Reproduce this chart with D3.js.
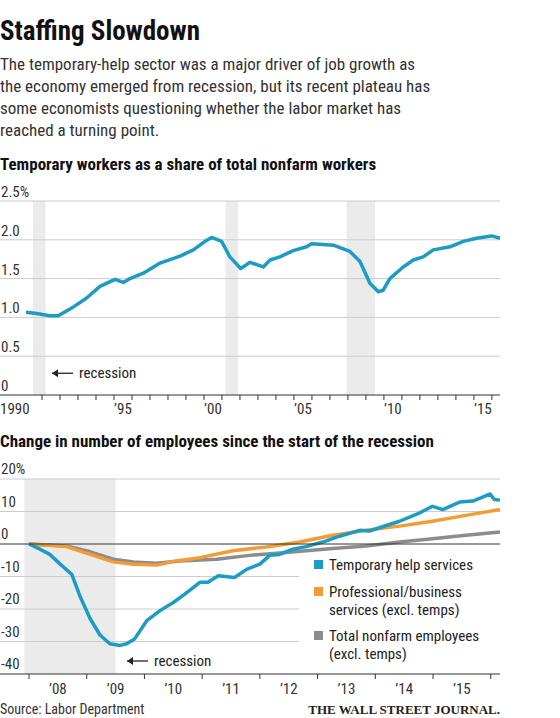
<!DOCTYPE html>
<html lang="en">
    <head>
        <meta charset="UTF-8" />
        <title>Staffing Slowdown</title>
        <style>
            body { margin: 0; background: #fff; }
            text { font-family: 'Liberation Sans Narrow', 'Roboto Condensed', 'Roboto', sans-serif; fill: #222; }
            .grid { stroke: #ccc; stroke-width: 1px; }
            .tick-label { font-size: 15px; fill: #333; }
        </style>
    </head>
    <body>
        <svg width="560" height="718"></svg>
        <script src="https://d3js.org/d3.v7.min.js"></script>
        <script>
            // top chart: temp workers share of nonfarm, %
            const shareYears = [1990.11, 1990.7, 1991.44, 1991.9, 1992.65, 1993.48, 1994.22, 1995.06, 1995.52, 1995.89, 1996.63, 1997.56, 1998.67, 1999.41, 2000.06, 2000.43, 2000.98, 2001.44, 2002.04, 2002.56, 2003.3, 2003.67, 2004.22, 2004.96, 2005.7, 2005.98, 2007.19, 2008.11, 2008.67, 2009.22, 2009.69, 2009.96, 2010.33, 2011.07, 2011.63, 2012.18, 2012.74, 2013.67, 2014.41, 2015.15, 2015.98, 2016.45];
            const shareValues = [1.065, 1.05, 1.02, 1.02, 1.12, 1.25, 1.4, 1.49, 1.45, 1.5, 1.57, 1.7, 1.79, 1.87, 1.98, 2.03, 1.98, 1.78, 1.63, 1.71, 1.65, 1.74, 1.78, 1.86, 1.91, 1.95, 1.93, 1.85, 1.72, 1.44, 1.33, 1.35, 1.5, 1.65, 1.74, 1.78, 1.87, 1.91, 1.98, 2.02, 2.05, 2.02];
            const shareTicks = [0, 0.5, 1.0, 1.5, 2.0, 2.5];
            const shareTickLabels = ['0', '0.5', '1.0', '1.5', '2.0', '2.5%'];
            const topYearLabels = [[1990, '1990'], [1995, '’95'], [2000, '’00'], [2005, '’05'], [2010, '’10'], [2015, '’15']];
            const topRecessions = [[1990.5, 1991.2], [2001.2, 2001.9], [2007.92, 2009.5]];

            // bottom chart: % change since Dec 2007
            const tempYears = [2008.0, 2008.19, 2008.36, 2008.54, 2008.74, 2008.88, 2009.06, 2009.23, 2009.4, 2009.58, 2009.69, 2009.83, 2010.04, 2010.27, 2010.5, 2010.7, 2010.96, 2011.1, 2011.28, 2011.56, 2011.77, 2012.0, 2012.17, 2012.34, 2012.57, 2012.8, 2013.09, 2013.38, 2013.73, 2013.9, 2014.07, 2014.42, 2014.77, 2014.99, 2015.17, 2015.46, 2015.69, 2015.86, 2015.99, 2016.06, 2016.16];
            const tempValues = [0, -1.6, -3.2, -6.2, -9.3, -15.9, -23, -28, -30.7, -31.2, -30.7, -29.2, -23.6, -20.5, -18, -15.4, -11.8, -11.8, -9.8, -10.3, -7.8, -6.2, -3.5, -3.2, -1.6, -0.8, 0.6, 2.4, 4.2, 4.0, 5.0, 7.0, 9.6, 11.6, 10.6, 12.9, 13.2, 14.4, 15.4, 13.7, 13.5];
            const profYears = [2008.0, 2008.65, 2009.06, 2009.46, 2009.81, 2010.21, 2010.55, 2010.96, 2011.53, 2012.11, 2012.69, 2013.26, 2013.84, 2014.42, 2014.99, 2015.57, 2016.16];
            const profValues = [0, -0.8, -3.2, -5.5, -6.2, -6.5, -5.2, -4.2, -2.1, -0.9, 0.6, 2.7, 4.2, 5.5, 7.0, 8.8, 10.6];
            const totalYears = [2008.0, 2008.65, 2009.06, 2009.46, 2009.81, 2010.21, 2010.61, 2011.25, 2011.82, 2012.4, 2013.26, 2013.84, 2014.42, 2014.99, 2015.57, 2016.16];
            const totalValues = [0, -0.6, -2.4, -4.7, -5.5, -5.9, -5.2, -4.7, -3.5, -2.7, -1.4, -0.6, 0.6, 1.6, 2.7, 3.7];
            const changeTicks = [-40, -30, -20, -10, 0, 10, 20];
            const changeTickLabels = ['-40', '-30', '-20', '-10', '0', '10', '20%'];
            const bottomYearLabels = [[2008, '’08'], [2009, '’09'], [2010, '’10'], [2011, '’11'], [2012, '’12'], [2013, '’13'], [2014, '’14'], [2015, '’15']];
            const bottomRecession = [2007.92, 2009.5];

            const legendItems = [
                { color: '#1c9cc4', lines: ['Temporary help services'] },
                { color: '#f39c34', lines: ['Professional/business', 'services (excl. temps)'] },
                { color: '#8c8c8c', lines: ['Total nonfarm employees', '(excl. temps)'] },
            ];
            const seriesColors = ['#1c9cc4', '#f39c34', '#8c8c8c'];

            const svg = d3.select('svg');

            // headline block
            svg.append('text').attr('x', 0).attr('y', 40).attr('font-size', 27).attr('font-weight', 'bold').style('fill', '#111').text('Staffing Slowdown');
            const sub = [
                'The temporary-help sector was a major driver of job growth as',
                'the economy emerged from recession, but its recent plateau has',
                'some economists questioning whether the labor market has',
                'reached a turning point.',
            ];
            svg.append('g')
                .selectAll('text')
                .data(sub)
                .join('text')
                .attr('x', 0)
                .attr('y', (d, i) => 70 + i * 22)
                .attr('font-size', 17)
                .style('fill', '#333')
                .text((d) => d);

            svg.append('text').attr('x', 0).attr('y', 170).attr('font-size', 17).attr('font-weight', 'bold').style('fill', '#111').text('Temporary workers as a share of total nonfarm workers');

            // ---- top chart
            const x1 = d3.scaleLinear().domain([1990, 2016.45]).range([24, 500]);
            const y1 = d3.scaleLinear().domain([0, 2.5]).range([395, 201]);
            const topG = svg.append('g');

            topG.selectAll('rect.rec')
                .data(topRecessions)
                .join('rect')
                .attr('x', (d) => x1(d[0]))
                .attr('width', (d) => x1(d[1]) - x1(d[0]))
                .attr('y', y1(2.5))
                .attr('height', y1(0) - y1(2.5))
                .attr('fill', '#ebebeb');

            topG.selectAll('line.grid')
                .data(shareTicks.slice(1))
                .join('line')
                .attr('class', 'grid')
                .attr('x1', 0)
                .attr('x2', 500)
                .attr('y1', (d) => y1(d))
                .attr('y2', (d) => y1(d));

            topG.selectAll('text.yl')
                .data(shareTicks)
                .join('text')
                .attr('class', 'tick-label')
                .attr('x', 1)
                .attr('y', (d) => y1(d) - 4)
                .text((d, i) => shareTickLabels[i]);

            topG.append('line').attr('x1', 0).attr('x2', 500).attr('y1', y1(0)).attr('y2', y1(0)).attr('stroke', '#333').attr('stroke-width', 1.2);
            topG.selectAll('line.xt')
                .data(d3.range(1991, 2017))
                .join('line')
                .attr('x1', (d) => x1(d))
                .attr('x2', (d) => x1(d))
                .attr('y1', y1(0))
                .attr('y2', y1(0) + 5)
                .attr('stroke', '#333');
            topG.selectAll('text.xl')
                .data(topYearLabels)
                .join('text')
                .attr('class', 'tick-label')
                .attr('x', (d) => (d[0] === 1990 ? 0 : x1(d[0] + 0.5)))
                .attr('text-anchor', (d) => (d[0] === 1990 ? 'start' : 'middle'))
                .attr('y', 414)
                .text((d) => d[1]);

            topG.append('path')
                .datum(d3.zip(shareYears, shareValues))
                .attr('fill', 'none')
                .attr('stroke', seriesColors[0])
                .attr('stroke-width', 3.5)
                .attr('stroke-linejoin', 'round')
                .attr('d', d3.line().x((d) => x1(d[0])).y((d) => y1(d[1])));

            topG.append('line').attr('x1', 73).attr('x2', 52).attr('y1', y1(0.28)).attr('y2', y1(0.28)).attr('stroke', '#222').attr('stroke-width', 1.3);
            topG.append('path').attr('d', `M52,${y1(0.28)} l6,-4 v8 z`).attr('fill', '#222');
            topG.append('text').attr('x', 79).attr('y', y1(0.28) + 5).attr('font-size', 15).text('recession');

            svg.append('text').attr('x', 0).attr('y', 447).attr('font-size', 17).attr('font-weight', 'bold').style('fill', '#111').text('Change in number of employees since the start of the recession');

            // ---- bottom chart
            const x2 = d3.scaleLinear().domain([2008, 2016.16]).range([29, 500]);
            const y2 = d3.scaleLinear().domain([-40, 20]).range([674, 479]);
            const bot = svg.append('g');

            bot.append('rect')
                .attr('x', x2(bottomRecession[0]))
                .attr('width', x2(bottomRecession[1]) - x2(bottomRecession[0]))
                .attr('y', y2(20))
                .attr('height', y2(-40) - y2(20))
                .attr('fill', '#ebebeb');

            bot.selectAll('line.grid')
                .data(changeTicks.filter((d) => d !== 0 && d !== -40))
                .join('line')
                .attr('class', 'grid')
                .attr('x1', 0)
                .attr('x2', (d) => (d < 0 ? 299 : 500))
                .attr('y1', (d) => y2(d))
                .attr('y2', (d) => y2(d));

            bot.selectAll('text.yl')
                .data(changeTicks)
                .join('text')
                .attr('class', 'tick-label')
                .attr('x', 1)
                .attr('y', (d) => y2(d) - 5)
                .text((d, i) => changeTickLabels[i]);

            bot.append('line').attr('x1', 0).attr('x2', 500).attr('y1', y2(-40)).attr('y2', y2(-40)).attr('stroke', '#333').attr('stroke-width', 1.2);
            bot.selectAll('line.xt')
                .data(d3.range(2008, 2017))
                .join('line')
                .attr('x1', (d) => x2(d))
                .attr('x2', (d) => x2(d))
                .attr('y1', y2(-40))
                .attr('y2', y2(-40) + 5)
                .attr('stroke', '#333');
            bot.selectAll('text.xl')
                .data(bottomYearLabels)
                .join('text')
                .attr('class', 'tick-label')
                .attr('x', (d) => x2(d[0] + 0.5))
                .attr('text-anchor', 'middle')
                .attr('y', 694)
                .text((d) => d[1]);

            const line2 = d3.line().x((d) => x2(d[0])).y((d) => y2(d[1]));
            const series = [
                d3.zip(totalYears, totalValues),
                d3.zip(profYears, profValues),
                d3.zip(tempYears, tempValues),
            ];
            const order = [2, 1, 0];
            bot.selectAll('path.s')
                .data(series)
                .join('path')
                .attr('fill', 'none')
                .attr('stroke', (d, i) => seriesColors[order[i]])
                .attr('stroke-width', 3.5)
                .attr('stroke-linejoin', 'round')
                .attr('d', line2);

            bot.append('line').attr('x1', 0).attr('x2', 500).attr('y1', y2(0)).attr('y2', y2(0)).attr('stroke', '#333').attr('stroke-width', 1);

            bot.append('line').attr('x1', 148).attr('x2', 127).attr('y1', 661).attr('y2', 661).attr('stroke', '#222').attr('stroke-width', 1.3);
            bot.append('path').attr('d', 'M127,661 l6,-4 v8 z').attr('fill', '#222');
            bot.append('text').attr('x', 154).attr('y', 666).attr('font-size', 15).text('recession');

            // legend
            const legendY = [570, 597, 641];
            const lg = bot.selectAll('g.lg').data(legendItems).join('g').attr('transform', (d, i) => `translate(314,${legendY[i]})`);
            lg.append('rect').attr('x', 0).attr('y', -10).attr('width', 9).attr('height', 9).attr('fill', (d) => d.color);
            lg.selectAll('text')
                .data((d) => d.lines)
                .join('text')
                .attr('x', 15)
                .attr('y', (d, i) => i * 18)
                .attr('font-size', 15)
                .text((d) => d);

            svg.append('text').attr('x', 0).attr('y', 714).attr('font-size', 14).style('fill', '#333').text('Source: Labor Department');
            svg.append('text')
                .attr('x', 500)
                .attr('y', 714)
                .attr('text-anchor', 'end')
                .attr('font-size', 13)
                .attr('font-weight', 'bold')
                .style('font-family', "'Liberation Serif', serif")
                .style('fill', '#222')
                .text('THE WALL STREET JOURNAL.');
        </script>
    </body>
</html>
